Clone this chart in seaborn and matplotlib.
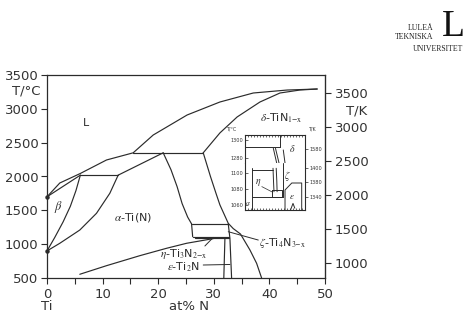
import numpy as np
import pandas as pd
import matplotlib
matplotlib.use("Agg")
import matplotlib.pyplot as plt
import seaborn as sns

sns.set_style("ticks")
plt.rcParams['font.family'] = ['DejaVu Sans']
plt.rcParams['mathtext.fontset'] = 'stix'

LC = "#2b2b2b"

# ---------------- main diagram data (at% N, T / degC) ----------------
liq_x = [0, 2.3, 6.0, 10.7, 15.5, 19.1, 25.2, 31.1, 37.1, 43.2, 48.6]
liq_t = [1700, 1904, 2045, 2244, 2350, 2613, 2909, 3101, 3234, 3278, 3293]
dsol_x = [28.1, 31.1, 34.2, 38.3, 41.9, 45.5, 48.6]
dsol_t = [2350, 2644, 2880, 3101, 3234, 3278, 3293]
per2350_x = [15.5, 28.1]
per2350_t = [2350, 2350]
per2020_x = [6.0, 12.8]
per2020_t = [2020, 2020]
bsol_x = [0, 6.0]
bsol_t = [1700, 2020]
btr_x = [0, 1.4, 2.9, 4.2, 5.2, 6.0]
btr_t = [900, 1100, 1330, 1560, 1790, 2020]
ab_x = [0, 2.3, 5.9, 8.9, 11.3, 12.8]
ab_t = [900, 1013, 1209, 1456, 1752, 2020]
asol_x = [12.8, 20.9]
asol_t = [2020, 2350]
asolv_x = [20.9, 22.3, 23.4, 24.3, 25.3, 26.0]
asolv_t = [2350, 2100, 1850, 1600, 1400, 1300]
box_top_x = [26.0, 32.6]
box_top_t = [1300, 1300]
box_left_x = [26.0, 26.2]
box_left_t = [1300, 1110]
h_up_x = [26.2, 32.7]
h_up_t = [1110, 1110]
h_lo_x = [26.6, 32.7]
h_lo_t = [1085, 1085]
alow_x = [5.9, 10.7, 16.7, 21.5, 25.1, 29.9]
alow_t = [555, 682, 830, 939, 1013, 1082]
epsL_x = [32.0, 31.8]
epsL_t = [1085, 500]
epsR_x = [32.6, 32.9, 33.2]
epsR_t = [1300, 1085, 500]
delta_x = [28.1, 29.4, 30.4, 31.1, 32.6, 33.5, 34.8, 36.5, 37.7, 38.6]
delta_t = [2350, 2000, 1750, 1580, 1308, 1230, 1150, 914, 717, 500]
eta_band_x = [29.3, 32.3]
eta_band_lo = [1088, 1088]
eta_band_hi = [1104, 1104]

main_curves = {
    "liquidus": (liq_x, liq_t), "delta_solidus": (dsol_x, dsol_t),
    "per2350": (per2350_x, per2350_t), "per2020": (per2020_x, per2020_t),
    "beta_solidus": (bsol_x, bsol_t), "beta_transus": (btr_x, btr_t),
    "alpha_beta": (ab_x, ab_t), "alpha_solidus": (asol_x, asol_t),
    "alpha_solvus": (asolv_x, asolv_t), "box_top": (box_top_x, box_top_t),
    "box_left": (box_left_x, box_left_t), "h_up": (h_up_x, h_up_t),
    "h_lo": (h_lo_x, h_lo_t), "alpha_low": (alow_x, alow_t),
    "eps_left": (epsL_x, epsL_t), "eps_right": (epsR_x, epsR_t),
    "delta_bound": (delta_x, delta_t),
}

# ---------------- inset data (at% N, T / degC) ----------------
in_top_curves = {
    "h1": ([26.0, 31.83], [1292.4, 1292.4]),
    "v1": ([31.83, 31.83], [1292.4, 1306]),
    "s1": ([30.72, 31.28], [1290.6, 1274]),
    "s2": ([31.08, 31.67], [1290.6, 1274]),
    "s3": ([32.38, 32.67], [1288.7, 1274]),
}
in_low_curves = {
    "vleft": ([27.12, 27.12], [1105.9, 1053]),
    "htop": ([27.12, 30.67], [1103.75, 1103.75]),
    "c1": ([30.67, 30.75, 30.83], [1105.9, 1090, 1076.6]),
    "c2": ([31.2, 31.3, 31.35], [1105.9, 1090, 1076.6]),
    "vzeta": ([32.38, 32.38], [1113, 1070.4]),
    "etabox": ([30.5, 32.2, 32.2, 30.5, 30.5], [1078.75, 1078.75, 1070.4, 1070.4, 1078.75]),
    "hbot": ([27.12, 32.38], [1070.4, 1070.4]),
    "eps": ([32.67, 32.67, 33.8, 35.45, 35.45], [1053, 1078.75, 1087.5, 1087.5, 1053]),
    "mark": ([33.6, 34.0, 34.3], [1054, 1062, 1056]),
}


def to_df(curves):
    rows = []
    for name, (xs, ts) in curves.items():
        for i, (x, t) in enumerate(zip(xs, ts)):
            rows.append((name, i, x, t))
    return pd.DataFrame(rows, columns=["curve", "order", "x", "t"])


W, H = 474, 319
fig = plt.figure(figsize=(W / 100, H / 100), dpi=100)
ax = fig.add_axes([47 / W, 41 / H, 278 / W, 203 / H])

sns.lineplot(data=to_df(main_curves), x="x", y="t", units="curve", estimator=None,
             sort=False, color=LC, lw=0.85, ax=ax, legend=False)
ax.fill_between(eta_band_x, eta_band_lo, eta_band_hi, color="#555555", lw=0)
ax.plot([0, 0], [1700, 900], ls="none", marker="o", ms=2.2, color=LC, clip_on=False)

ax.set_xlim(0, 50)
ax.set_ylim(500, 3500)
ax.set_xlabel("")
ax.set_ylabel("")
ax.set_xticks([0, 10, 20, 30, 40, 50])
ax.set_xticks([5, 15, 25, 35, 45], minor=True)
ax.set_yticks([500, 1000, 1500, 2000, 2500, 3000, 3500])
ax.tick_params(axis="both", which="both", direction="out", length=4, width=0.8,
               color=LC, labelcolor="#333333", labelsize=9.5, pad=2)
ax.tick_params(axis="x", pad=3)
for s in ax.spines.values():
    s.set_visible(True)
    s.set_linewidth(0.9)
    s.set_color(LC)

sec = ax.secondary_yaxis("right", functions=(lambda c: c + 273, lambda k: k - 273))
sec.set_yticks([1000, 1500, 2000, 2500, 3000, 3500])
sec.tick_params(direction="out", length=4, width=0.8, color=LC, labelcolor="#333333",
                labelsize=9.5, pad=3)
sec.spines["right"].set_color(LC)

# field labels
fs = 8
ax.text(7.0, 2790, "L", fontsize=fs, color=LC, ha="center", va="center")
ax.text(42.1, 2864, r"$\delta$-TiN$_{1\mathrm{-x}}$", fontsize=fs, color=LC, ha="center", va="center")
ax.text(2.0, 1549, r"$\beta$", fontsize=9, color=LC, ha="center", va="center")
ax.text(15.5, 1401, r"$\alpha$-Ti(N)", fontsize=fs, color=LC, ha="center", va="center")
ax.text(24.6, 855, r"$\eta$-Ti$_3$N$_{2\mathrm{-x}}$", fontsize=fs, color=LC, ha="center", va="center")
ax.text(24.5, 663, r"$\varepsilon$-Ti$_2$N", fontsize=fs, color=LC, ha="center", va="center")
ax.text(38.2, 1017, r"$\zeta$-Ti$_4$N$_{3\mathrm{-x}}$", fontsize=fs, color=LC, ha="left", va="center")
arrow = dict(arrowstyle="-", color=LC, lw=0.7, shrinkA=0, shrinkB=0)
ax.annotate("", xy=(32.6, 1184), xytext=(38.0, 1061), arrowprops=arrow)
ax.annotate("", xy=(29.9, 1100), xytext=(28.4, 973), arrowprops=arrow)
ax.annotate("", xy=(32.9, 700), xytext=(28.1, 692), arrowprops=arrow)

# axis texts
fig.text(40 / W, 1 - 91 / H, "T/°C", fontsize=9.5, color="#333333", ha="right", va="center")
fig.text(357 / W, 1 - 111 / H, "T/K", fontsize=9.5, color="#333333", ha="center", va="center")
fig.text(47 / W, 1 - 307 / H, "Ti", fontsize=9.5, color="#333333", ha="center", va="center")
fig.text(189 / W, 1 - 307 / H, "at% N", fontsize=9.5, color="#333333", ha="center", va="center")

# ---------------- inset (broken temperature axis) ----------------
ax_top = fig.add_axes([245 / W, (H - 163) / H, 60 / W, 28 / H])
ax_low = fig.add_axes([245 / W, (H - 210) / H, 60 / W, 47 / H])
for a in (ax_top, ax_low):
    a.set_facecolor("white")
    a.set_xlim(26, 36)
    for s in a.spines.values():
        s.set_linewidth(0.8)
        s.set_color(LC)
ax_top.set_ylim(1274, 1305.6)
ax_low.set_ylim(1053.75, 1112.5)
ax_top.spines["bottom"].set_visible(False)
ax_low.spines["top"].set_visible(False)

sns.lineplot(data=to_df(in_top_curves), x="x", y="t", units="curve", estimator=None,
             sort=False, color=LC, lw=0.7, ax=ax_top, legend=False)
sns.lineplot(data=to_df(in_low_curves), x="x", y="t", units="curve", estimator=None,
             sort=False, color=LC, lw=0.7, ax=ax_low, legend=False)

for a in (ax_top, ax_low):
    a.set_xlabel("")
    a.set_ylabel("")
ax_top.set_xticks(np.arange(26, 36.01, 1.0))
ax_top.set_xticks(np.arange(26, 36.01, 0.5), minor=True)
ax_top.xaxis.tick_top()
ax_top.tick_params(axis="x", which="both", direction="in", length=1.5, width=0.5,
                   labeltop=False, labelbottom=False, color=LC)
ax_low.set_xticks(np.arange(26, 36.01, 1.0))
ax_low.set_xticks(np.arange(26, 36.01, 0.5), minor=True)
ax_low.tick_params(axis="x", which="both", direction="in", length=1.5, width=0.5,
                   labelbottom=False, color=LC)

ax_top.set_yticks([1280, 1300])
ax_top.set_yticklabels(["1280", "1300"])
ax_low.set_yticks([1060, 1080, 1100])
ax_low.set_yticklabels(["1060", "1080", "1100"])
for a in (ax_top, ax_low):
    a.tick_params(axis="y", direction="in", length=2, width=0.5, labelsize=3.6,
                  pad=1.5, color=LC, labelcolor="#333333")

tw_top = ax_top.twinx()
tw_top.set_ylim(ax_top.get_ylim())
tw_top.set_yticks([1289.5])
tw_top.set_yticklabels(["1580"])
tw_low = ax_low.twinx()
tw_low.set_ylim(ax_low.get_ylim())
tw_low.set_yticks([1105.9, 1089.1, 1070.4])
tw_low.set_yticklabels(["1400", "1380", "1340"])
for a in (tw_top, tw_low):
    a.tick_params(axis="y", direction="out", length=2, width=0.5, labelsize=3.6,
                  pad=1, color=LC, labelcolor="#333333")
    for s in a.spines.values():
        s.set_visible(False)

ax_top.text(33.8, 1290, r"$\delta$", fontsize=7, color=LC, ha="center", va="center")
ax_low.text(33.0, 1096, r"$\zeta$", fontsize=7, color=LC, ha="center", va="center")
ax_low.text(28.2, 1088, r"$\eta$", fontsize=7, color=LC, ha="center", va="center")
ax_low.text(33.9, 1071, r"$\varepsilon$", fontsize=6.5, color=LC, ha="center", va="center")
ax_low.text(26.5, 1062, r"$\alpha$", fontsize=5, color=LC, ha="center", va="center")
ax_low.annotate("", xy=(30.6, 1076), xytext=(28.8, 1083),
                arrowprops=dict(arrowstyle="-", color=LC, lw=0.5, shrinkA=0, shrinkB=0))
fig.text(232 / W, 1 - 129 / H, "T/°C", fontsize=3.4, color="#333333", ha="center", va="center")
fig.text(313 / W, 1 - 129 / H, "T/K", fontsize=3.4, color="#333333", ha="center", va="center")

# ---------------- logo ----------------
fig.text(453 / W, 1 - 36 / H, "L", fontsize=27, family="Liberation Serif",
         color="#111111", ha="center", va="baseline")
for txt, y, xr in [("LULEÅ", 28, 433), ("TEKNISKA", 37, 433), ("UNIVERSITET", 49, 463)]:
    fig.text(xr / W, 1 - y / H, txt, fontsize=5.6, family="Liberation Serif",
             color="#222222", ha="right", va="center")

fig.savefig("out.png", dpi=100, facecolor="white")
